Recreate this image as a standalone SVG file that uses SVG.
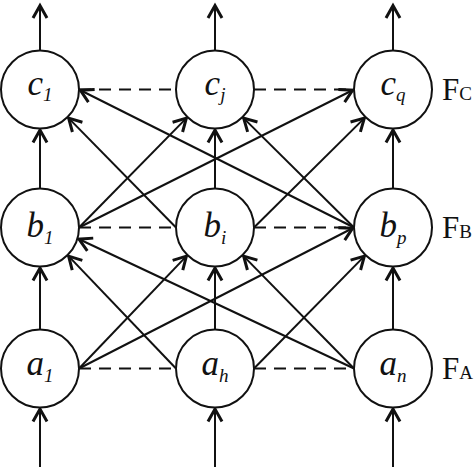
<svg xmlns="http://www.w3.org/2000/svg" width="474" height="467" viewBox="0 0 474 467">
  <style>
    .node { fill: #fff; stroke: #111; stroke-width: 2; }
    .lbl { font-family: "Liberation Serif", "Times New Roman", serif; font-style: italic; font-size: 35px; fill: #111; text-anchor: middle; }
    .sub { font-size: 19px; }
    .layer { font-family: "Liberation Serif", "Times New Roman", serif; fill: #111; }
    .edge { stroke: #111; stroke-width: 2; fill: none; marker-end: url(#arr); }
    .dash { stroke: #111; stroke-width: 2.2; fill: none; stroke-dasharray: 12 8; }
  </style>
  <defs>
    <marker id="arr" viewBox="-18 -10 22 20" refX="0" refY="0" markerWidth="22" markerHeight="20" markerUnits="userSpaceOnUse" orient="auto" overflow="visible">
      <path d="M-14,-7 L-1.5,0 L-14,7" fill="none" stroke="#111" stroke-width="3"/>
    </marker>
  </defs>
  <rect width="474" height="467" fill="#fff"/>

  <g id="connectors">
    <!-- outputs -->
    <path class="edge" d="M40,50.5 L40,4"/>
    <path class="edge" d="M215,50.5 L215,4"/>
    <path class="edge" d="M393,50.5 L393,4"/>
    <!-- B to C vertical -->
    <path class="edge" d="M40,188.5 L40,128.5"/>
    <path class="edge" d="M215,188.5 L215,128.5"/>
    <path class="edge" d="M393,188.5 L393,128.5"/>
    <!-- A to B vertical -->
    <path class="edge" d="M40,329.5 L40,266.5"/>
    <path class="edge" d="M215,329.5 L215,266.5"/>
    <path class="edge" d="M393,329.5 L393,266.5"/>
    <!-- inputs -->
    <path class="edge" d="M40,467 L40,407.5"/>
    <path class="edge" d="M215,467 L215,407.5"/>
    <path class="edge" d="M393,467 L393,407.5"/>
    <!-- B to C cross -->
    <path class="edge" d="M354,227.5 L79,89.5"/>
    <path class="edge" d="M176,227.5 L67.6,117.1"/>
    <path class="edge" d="M79,227.5 L187.4,117.1"/>
    <path class="edge" d="M79,227.5 L354,89.5"/>
    <path class="edge" d="M254,227.5 L365.4,117.1"/>
    <path class="edge" d="M354,227.5 L242.6,117.1"/>
    <!-- A to B cross -->
    <path class="edge" d="M354,368.5 L77.6,238.5"/>
    <path class="edge" d="M354,368.5 L242.6,255.1"/>
    <path class="edge" d="M79,368.5 L187.4,255.1"/>
    <path class="edge" d="M176,368.5 L67.6,255.1"/>
    <path class="edge" d="M254,368.5 L365.4,255.1"/>
    <path class="edge" d="M79,368.5 L354,227.5"/>
    <!-- dashed lateral -->
    <path class="dash" d="M79,89.5 L176,89.5"/>
    <path class="dash" d="M254,89.5 L354,89.5"/>
    <path class="dash" d="M79,227.5 L176,227.5"/>
    <path class="dash" d="M254,227.5 L354,227.5"/>
    <path class="dash" d="M79,368.5 L176,368.5"/>
    <path class="dash" d="M254,368.5 L354,368.5"/>
  </g>

  <g id="c1"><circle class="node" cx="40" cy="89.5" r="39"/><text class="lbl" x="40" y="95">c<tspan class="sub" dy="6">1</tspan></text></g>
  <g id="cj"><circle class="node" cx="215" cy="89.5" r="39"/><text class="lbl" x="215" y="95">c<tspan class="sub" dy="6">j</tspan></text></g>
  <g id="cq"><circle class="node" cx="393" cy="89.5" r="39"/><text class="lbl" x="393" y="95">c<tspan class="sub" dy="6">q</tspan></text></g>

  <g id="b1"><circle class="node" cx="40" cy="227.5" r="39"/><text class="lbl" x="40" y="237">b<tspan class="sub" dy="7">1</tspan></text></g>
  <g id="bi"><circle class="node" cx="215" cy="227.5" r="39"/><text class="lbl" x="215" y="237">b<tspan class="sub" dy="7">i</tspan></text></g>
  <g id="bp"><circle class="node" cx="393" cy="227.5" r="39"/><text class="lbl" x="393" y="237">b<tspan class="sub" dy="7">p</tspan></text></g>

  <g id="a1"><circle class="node" cx="40" cy="368.5" r="39"/><text class="lbl" x="40" y="375">a<tspan class="sub" dy="7">1</tspan></text></g>
  <g id="ah"><circle class="node" cx="215" cy="368.5" r="39"/><text class="lbl" x="215" y="375">a<tspan class="sub" dy="7">h</tspan></text></g>
  <g id="an"><circle class="node" cx="393" cy="368.5" r="39"/><text class="lbl" x="393" y="375">a<tspan class="sub" dy="7">n</tspan></text></g>

  <g id="layer-labels">
    <text class="layer" x="442" y="100"><tspan font-size="31">F</tspan><tspan font-size="19">C</tspan></text>
    <text class="layer" x="442" y="238"><tspan font-size="31">F</tspan><tspan font-size="19">B</tspan></text>
    <text class="layer" x="442" y="379"><tspan font-size="31">F</tspan><tspan font-size="19">A</tspan></text>
  </g>
</svg>
